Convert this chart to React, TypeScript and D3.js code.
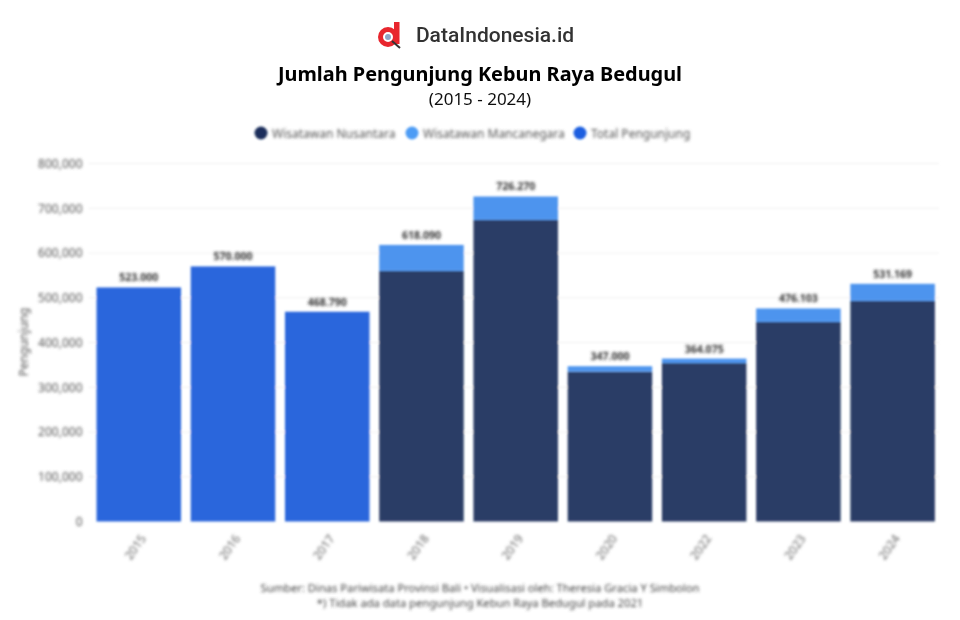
import React, { useRef, useEffect } from 'react';
import * as d3 from 'd3';

const years = ['2015', '2016', '2017', '2018', '2019', '2020', '2022', '2023', '2024'];
// kunjungan dengan rincian (2018 ke atas)
const nusantara = [0, 0, 0, 560000, 674000, 335000, 354000, 446000, 493000];
const mancanegara = [0, 0, 0, 58090, 52270, 12000, 10075, 30103, 38169];
// hanya total (2015 - 2017)
const totalOnly = [523000, 570000, 468790, 0, 0, 0, 0, 0, 0];
const valueLabels = ['523.000', '570.000', '468.790', '618.090', '726.270', '347.000', '364.075', '476.103', '531.169'];
const yTicks = [0, 100000, 200000, 300000, 400000, 500000, 600000, 700000, 800000];
const legendNames = ['Wisatawan Nusantara', 'Wisatawan Mancanegara', 'Total Pengunjung'];
const seriesColors = ['#2a3d66', '#4e94ee', '#2a66dc'];

const font = '"Noto Sans", sans-serif';

const App: React.FC = () => {
  const svgRef = useRef<SVGSVGElement | null>(null);

  useEffect(() => {
    const svg = d3.select(svgRef.current);
    svg.selectAll('*').remove();

    const defs = svg.append('defs');
    const blur = (id: string, sd: number) =>
      defs.append('filter').attr('id', id)
        .attr('x', '-5%').attr('y', '-5%').attr('width', '110%').attr('height', '110%')
        .append('feGaussianBlur').attr('stdDeviation', sd);
    blur('soft', 1.1);
    blur('softer', 1.5);
    blur('slight', 0.4);

    const x = d3.scaleBand().domain(years).range([91.8, 939.6]).paddingInner(0.103).paddingOuter(0.05);
    const y = d3.scaleLinear().domain([0, 800000]).range([521.5, 163.5]);

    // header
    const head = svg.append('g').attr('filter', 'url(#slight)');
    const logo = head.append('g').attr('transform', 'translate(388,37)');
    logo.append('circle').attr('r', 7.5).attr('fill', 'none').attr('stroke', '#e8262d').attr('stroke-width', 5);
    logo.append('rect').attr('x', 6).attr('y', -15).attr('width', 5.5).attr('height', 22).attr('fill', '#e8262d');
    logo.append('line').attr('x1', 4).attr('y1', 4).attr('x2', 12).attr('y2', 11).attr('stroke', '#333').attr('stroke-width', 2);
    logo.append('circle').attr('r', 3).attr('fill', '#8fa6c8');
    head.append('text').attr('x', 495).attr('y', 42).attr('text-anchor', 'middle')
      .attr('font-family', 'Roboto, sans-serif').attr('font-weight', 500).attr('font-size', 21).attr('fill', '#333')
      .text('DataIndonesia.id');
    head.append('text').attr('x', 480).attr('y', 81).attr('text-anchor', 'middle')
      .attr('font-family', font).attr('font-weight', 700).attr('font-size', 19.9).attr('fill', '#000')
      .text('Jumlah Pengunjung Kebun Raya Bedugul');
    head.append('text').attr('x', 480).attr('y', 105).attr('text-anchor', 'middle')
      .attr('font-family', font).attr('font-size', 17).attr('fill', '#111')
      .text('(2015 - 2024)');

    const body = svg.append('g').attr('filter', 'url(#soft)');
    const small = svg.append('g').attr('filter', 'url(#softer)');

    // legend
    const legendX = [261, 412, 580];
    legendNames.forEach((name, i) => {
      body.append('circle').attr('cx', legendX[i]).attr('cy', 133).attr('r', 6.5)
        .attr('fill', ['#1f2f5c', '#4e9cf5', '#1f5fe0'][i]);
      small.append('text').attr('x', legendX[i] + 11).attr('y', 137.5)
        .attr('font-family', font).attr('font-size', 12).attr('fill', '#555').text(name);
    });

    // grid + y axis
    const yAxis = small.append('g').attr('transform', 'translate(88.5,0)')
      .call(d3.axisLeft(y).tickValues(yTicks).tickSize(0).tickPadding(6).tickFormat(d3.format(',') as any));
    yAxis.select('.domain').remove();
    yAxis.selectAll('text').attr('font-family', font).attr('font-size', 12).attr('fill', '#555');
    body.append('g').selectAll('line').data(yTicks.slice(1)).join('line')
      .attr('x1', 88.5).attr('x2', 939)
      .attr('y1', (d) => y(d)).attr('y2', (d) => y(d))
      .attr('stroke', '#f0f0f0').attr('stroke-width', 1);

    small.append('text').attr('transform', 'translate(28,342) rotate(-90)').attr('text-anchor', 'middle')
      .attr('font-family', font).attr('font-size', 12).attr('fill', '#555').text('Pengunjung');

    // stacked bars
    const rows = years.map((year, i) => ({ year, n: nusantara[i], m: mancanegara[i], t: totalOnly[i] }));
    const stacked = d3.stack<any>().keys(['n', 'm', 't'])(rows);
    body.append('g').selectAll('g').data(stacked).join('g')
      .attr('fill', (_, i) => seriesColors[i])
      .selectAll('rect').data((d) => d).join('rect')
      .attr('x', (d) => x(d.data.year) as number)
      .attr('width', x.bandwidth())
      .attr('y', (d) => y(d[1]))
      .attr('height', (d) => y(d[0]) - y(d[1]));

    // value labels
    const totals = rows.map((r) => r.n + r.m + r.t);
    small.append('g').selectAll('text').data(years).join('text')
      .attr('x', (d) => (x(d) as number) + x.bandwidth() / 2)
      .attr('y', (_, i) => y(totals[i]) - 6)
      .attr('text-anchor', 'middle')
      .attr('font-family', font).attr('font-weight', 700).attr('font-size', 10.5).attr('fill', '#333')
      .text((_, i) => valueLabels[i]);

    // x axis
    const xAxis = small.append('g').attr('transform', 'translate(0,521.5)')
      .call(d3.axisBottom(x).tickSize(0).tickPadding(0));
    xAxis.select('.domain').remove();
    xAxis.selectAll('text')
      .attr('font-family', font).attr('font-size', 12).attr('fill', '#666')
      .attr('text-anchor', 'middle')
      .attr('dy', 0)
      .attr('transform', 'translate(0,28) rotate(-55)');

    // footer
    small.append('text').attr('x', 480).attr('y', 592).attr('text-anchor', 'middle')
      .attr('font-family', font).attr('font-size', 11.2).attr('fill', '#444')
      .text('Sumber: Dinas Pariwisata Provinsi Bali • Visualisasi oleh: Theresia Gracia Y Simbolon');
    small.append('text').attr('x', 480).attr('y', 607).attr('text-anchor', 'middle')
      .attr('font-family', font).attr('font-size', 11.2).attr('fill', '#444')
      .text('*) Tidak ada data pengunjung Kebun Raya Bedugul pada 2021');
  }, []);

  return (
    <svg ref={svgRef} width={960} height={620} style={{ position: 'absolute', left: 0, top: 0, background: '#fff' }}></svg>
  );
};

export default App;
